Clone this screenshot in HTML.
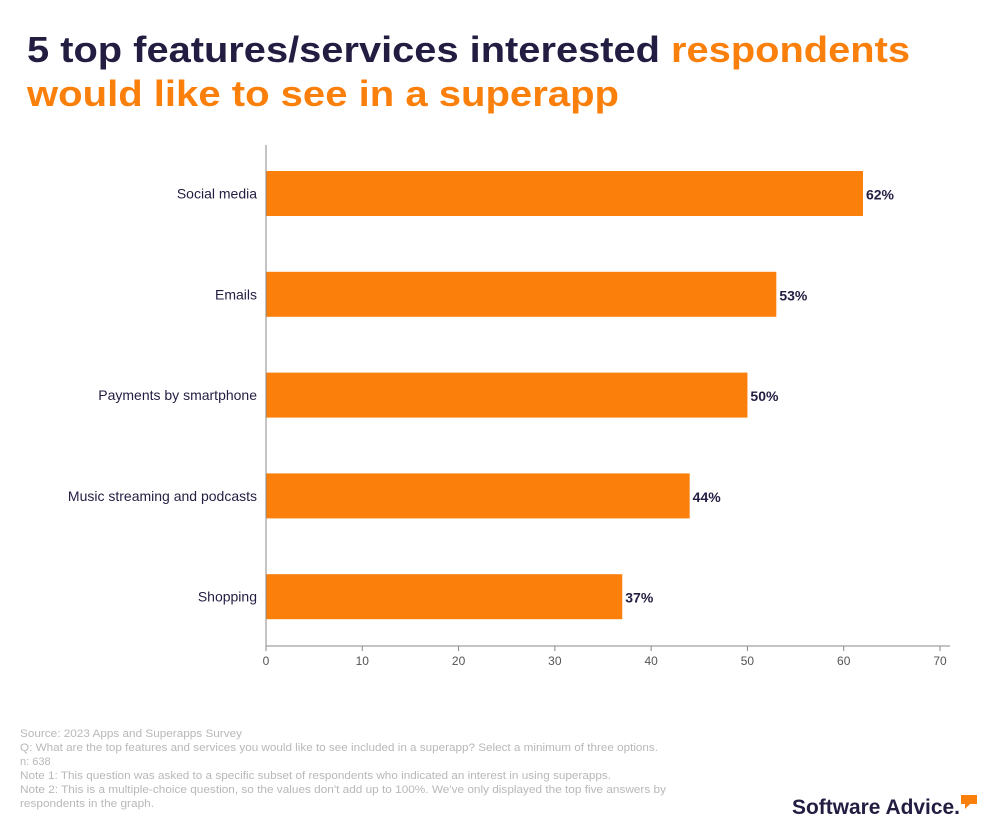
<!DOCTYPE html>
<html><head><meta charset="utf-8"><style>
html,body{margin:0;padding:0;background:#fff;}
svg{display:block;font-family:"Liberation Sans",sans-serif;}
</style></head><body>
<svg id="chart" width="1000" height="833" viewBox="0 0 1000 833">
<text x="27" y="62" font-size="36" font-weight="bold" fill="#231d42" textLength="883" lengthAdjust="spacingAndGlyphs">5 top features/services interested <tspan fill="#fb7f0b">respondents</tspan></text>
<text x="27" y="106" font-size="36" font-weight="bold" fill="#fb7f0b" textLength="592" lengthAdjust="spacingAndGlyphs">would like to see in a superapp</text>
<g id="plot"></g>
<g fill="#b8b8b8" font-size="11">
<text x="20" y="737" textLength="222" lengthAdjust="spacingAndGlyphs">Source: 2023 Apps and Superapps Survey</text>
<text x="20" y="751" textLength="638" lengthAdjust="spacingAndGlyphs">Q: What are the top features and services you would like to see included in a superapp? Select a minimum of three options.</text>
<text x="20" y="765">n: 638</text>
<text x="20" y="779" textLength="591" lengthAdjust="spacingAndGlyphs">Note 1: This question was asked to a specific subset of respondents who indicated an interest in using superapps.</text>
<text x="20" y="793" textLength="646" lengthAdjust="spacingAndGlyphs">Note 2: This is a multiple-choice question, so the values don't add up to 100%. We've only displayed the top five answers by</text>
<text x="20" y="807" textLength="134" lengthAdjust="spacingAndGlyphs">respondents in the graph.</text>
</g>
<g>
<text x="792" y="814" font-size="21" font-weight="bold" fill="#231d42" textLength="168" lengthAdjust="spacingAndGlyphs">Software Advice.</text>
<path d="M961 795 h16 v9 h-7 l-5 5 v-5 h-4 z" fill="#fb7f0b"/>
</g>
</svg>
<script>
const categories=["Social media","Emails","Payments by smartphone","Music streaming and podcasts","Shopping"];
const values=[62,53,50,44,37];
const xTicks=[0,10,20,30,40,50,60,70];
const NS="http://www.w3.org/2000/svg";
const g=document.getElementById('plot');
const x0=266,x1=940,xMax=70,yTop=145,yBot=646,bandStart=171,band=100.8,barH=45;
const xs=v=>x0+(v/xMax)*(x1-x0);
function mk(t,a,p){const e=document.createElementNS(NS,t);for(const k in a)e.setAttribute(k,a[k]);(p||g).appendChild(e);return e;}
categories.forEach((c,i)=>{
 const y=bandStart+i*band;
 const r=mk('rect',{x:x0,y:y,width:xs(values[i])-x0,height:barH,fill:'#fb7f0b'});
 
 
 const l=mk('text',{x:257,y:y+barH/2+5,'text-anchor':'end','font-size':14,fill:'#231d42'});
 l.textContent=c;
 
 
 const v=mk('text',{x:xs(values[i])+3,y:y+barH/2+6,'font-size':14,'font-weight':'bold',fill:'#231d42'});
 v.textContent=values[i]+'%';
 
 
});
const ya=mk('line',{x1:x0,y1:yTop,x2:x0,y2:yBot,stroke:'#888','stroke-width':1});


const xa=mk('line',{x1:x0,y1:yBot,x2:950,y2:yBot,stroke:'#888','stroke-width':1});


xTicks.forEach(t=>{
 const tk=mk('line',{x1:xs(t),y1:yBot,x2:xs(t),y2:yBot+5,stroke:'#888'});
 
 
 const tl=mk('text',{x:xs(t),y:yBot+19,'text-anchor':'middle','font-size':12,fill:'#555'});
 tl.textContent=t;
 
 
});
</script>
</body></html>
